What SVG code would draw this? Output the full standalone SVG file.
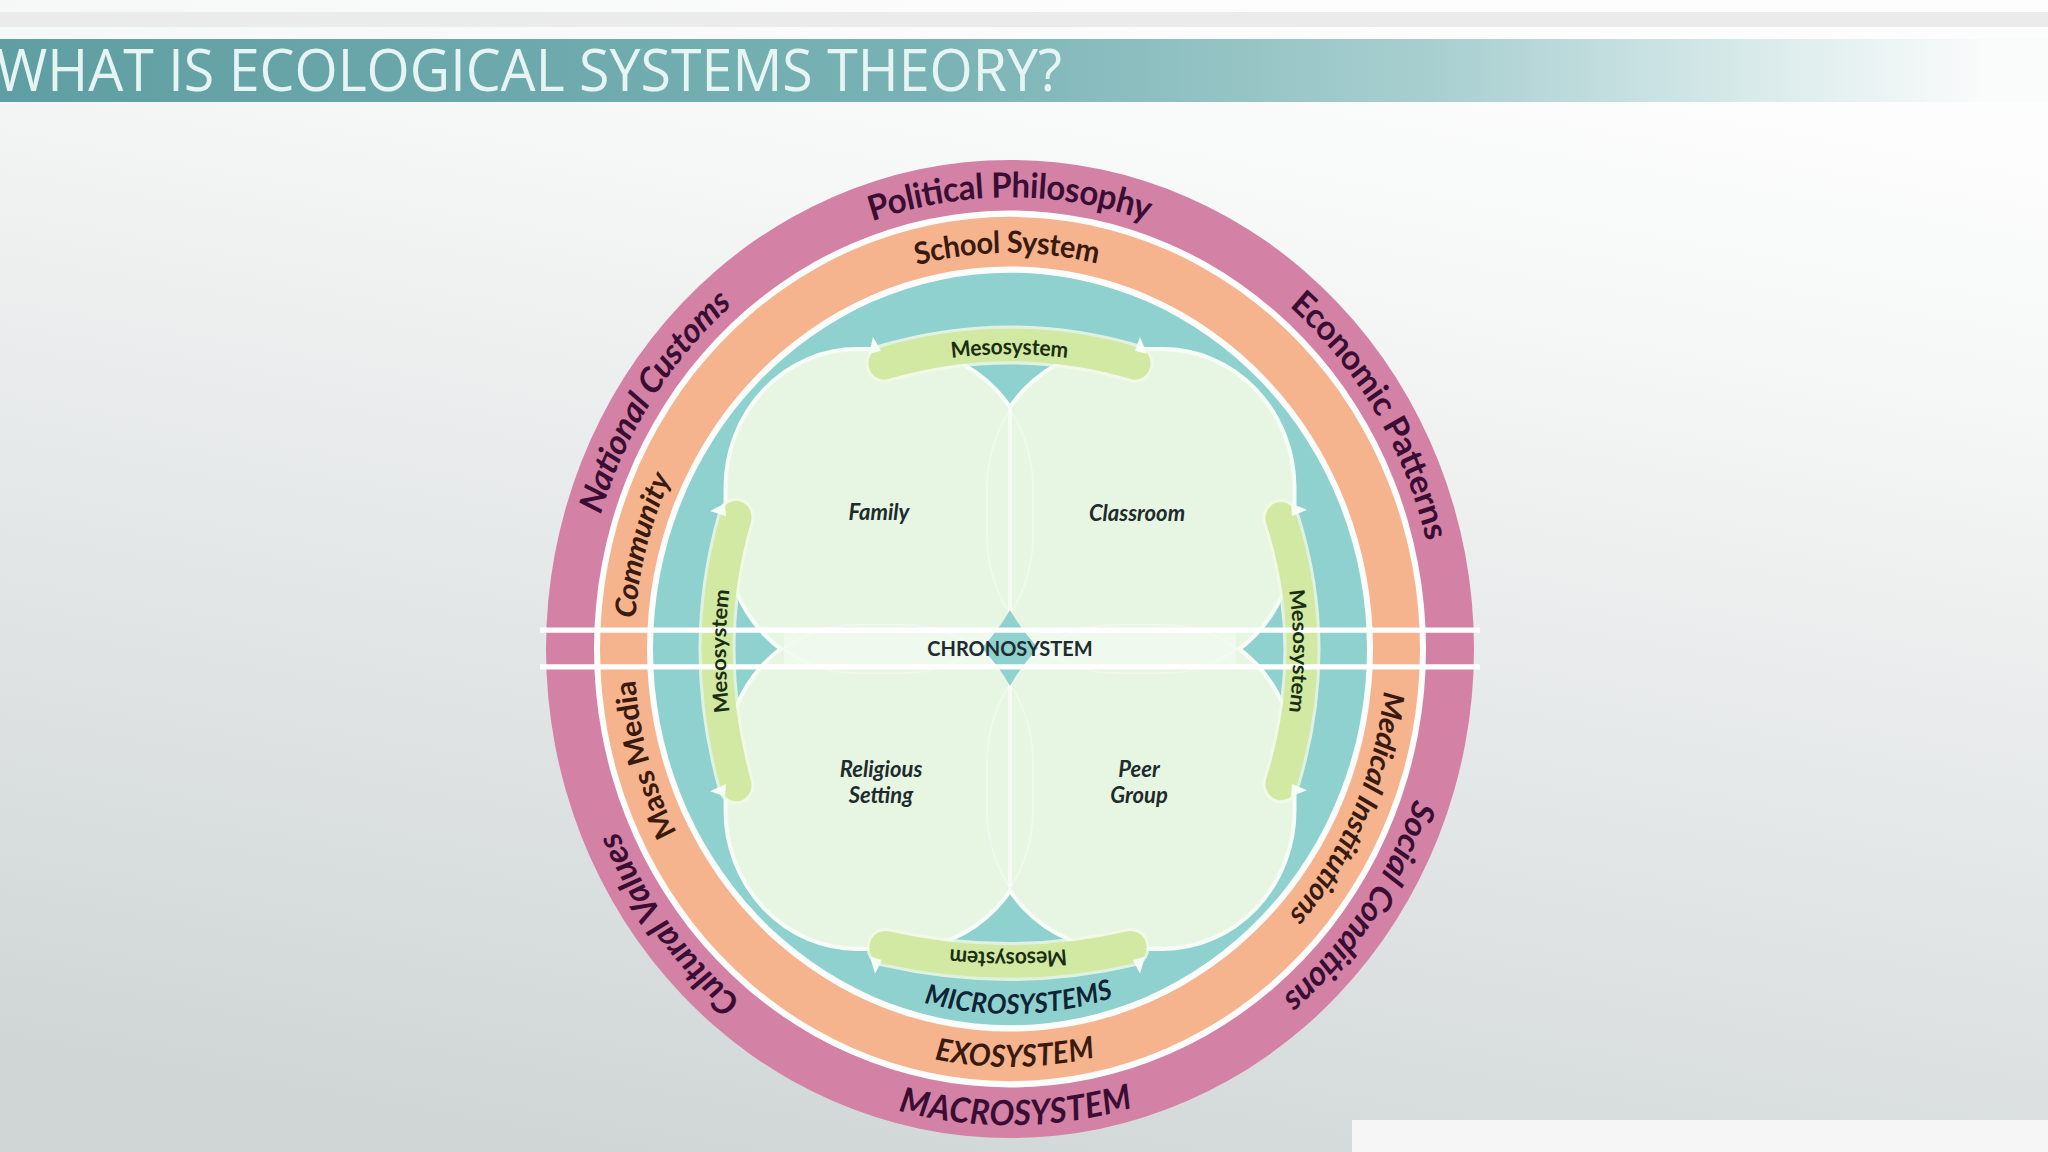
<svg xmlns="http://www.w3.org/2000/svg" width="2048" height="1152" viewBox="0 0 2048 1152">
  <defs>
    <linearGradient id="bg" x1="0.62" y1="0" x2="0.3" y2="1">
      <stop offset="0" stop-color="#fdfdfd"/>
      <stop offset="0.2" stop-color="#f6f7f7"/>
      <stop offset="1" stop-color="#d0d6d6"/>
    </linearGradient>
    <linearGradient id="banner" x1="0" y1="0" x2="2048" y2="0" gradientUnits="userSpaceOnUse">
      <stop offset="0" stop-color="#5f9ea2"/>
      <stop offset="0.45" stop-color="#78b2b4"/>
      <stop offset="0.7" stop-color="#a8cfd0"/>
      <stop offset="0.88" stop-color="#e0eeee"/>
      <stop offset="0.97" stop-color="#fafbfb"/>
    </linearGradient>
    <path id="pinkCW" d="M0,440 A440,440 0 1 1 0,-440 A440,440 0 1 1 0,440"/>
    <path id="pinkCCW" d="M0,-440 A440,440 0 1 0 0,440 A440,440 0 1 0 0,-440"/>
    <path id="oraCW" d="M0,386 A386,386 0 1 1 0,-386 A386,386 0 1 1 0,386"/>
    <path id="oraCCW" d="M0,-386 A386,386 0 1 0 0,386 A386,386 0 1 0 0,-386"/>
    <path id="tealCCW" d="M0,-337 A337,337 0 1 0 0,337 A337,337 0 1 0 0,-337"/>
    <path id="mesoTop" d="M-136,-268 Q0,-306 135,-268"/>
    <path id="mesoBottom" d="M-135,280 Q0,310 131,280"/>
    <path id="mesoBottomRev" d="M131,280 Q0,310 -135,280"/>
    <path id="mesoLeft" d="M-271,139 Q-312,0 -271,-135"/>
    <path id="mesoRight" d="M268,-134 Q313,0 268,138"/>
    <path id="bandTop" d="M-126,-271 Q0,-306 125,-271"/>
    <path id="bandBottom" d="M-125,283 Q0,310 121,283"/>
    <path id="bandLeft" d="M-274,129 Q-312,0 -274,-125"/>
    <path id="bandRight" d="M271,-124 Q313,0 271,128"/>
    <rect id="lobeShape" width="306" height="306" rx="130"/>
  </defs>
  <style>
    .ring-pink { fill: #d481a6; }
    .ring-orange { fill: #f5b48e; }
    .ring-teal { fill: #8fd1cf; }
    .sep { fill: #fbfdfd; }
    .lobe { fill: #e7f5e3; }
    .lobe-glow { fill: none; stroke: #f6fcf5; stroke-width: 7; }
    .lobe-line { fill: none; stroke: #ffffff; stroke-width: 2; opacity: 0.3; }
    .band { fill: none; stroke: #d2e9a4; stroke-width: 31; stroke-linecap: round; }
    .band-glow { fill: none; stroke: #f3fae6; stroke-width: 37; stroke-linecap: round; opacity: 0.8; }
    .spike { fill: #f6fcf6; }
    .lbl { font-family: Lato, "Open Sans", "Liberation Sans", sans-serif; font-weight: 700; }
    .pink-t { fill: #3a0e33; font-size: 33px; }
    .ora-t { fill: #3b1a0e; font-size: 29px; }
    .teal-t { fill: #0f2335; font-size: 26px; font-style: italic; }
    .meso-t { fill: #1b2e10; font-size: 21px; }
    .inner-t { fill: #1e2b2b; font-size: 22px; font-style: italic; }
    .chrono-t { fill: #1e2b2f; font-size: 20px; }
    .it { font-style: italic; }
  </style>

  <g id="background">
    <rect x="0" y="0" width="2048" height="1152" fill="url(#bg)"/>
    <rect x="0" y="12" width="2048" height="15" fill="#ebebeb"/>
    <rect x="1352" y="1120" width="696" height="32" fill="#f6f6f6"/>
  </g>

  <g id="title">
    <rect x="0" y="39" width="2048" height="63" fill="url(#banner)"/>
    <text x="-4" y="91" textLength="1066" lengthAdjust="spacingAndGlyphs" font-family="'Open Sans', 'Liberation Sans', sans-serif" font-size="59" fill="#e6f5f3">WHAT IS ECOLOGICAL SYSTEMS THEORY?</text>
  </g>

  <g id="diagram" transform="translate(1010,649) scale(1,1.054)">
    <g id="macrosystem">
      <circle class="ring-pink" r="464"/>
      <circle class="sep" r="416"/>
    </g>
    <g id="exosystem">
      <circle class="ring-orange" r="410"/>
      <circle class="sep" r="363"/>
    </g>
    <g id="microsystems">
      <circle class="ring-teal" r="357"/>
    </g>

    <g id="lobe-glows">
      <use href="#lobeShape" x="-283" y="-283" class="lobe-glow"/>
      <use href="#lobeShape" x="-23" y="-283" class="lobe-glow"/>
      <use href="#lobeShape" x="-283" y="-23" class="lobe-glow"/>
      <use href="#lobeShape" x="-23" y="-23" class="lobe-glow"/>
    </g>
    <g id="family"><use href="#lobeShape" x="-283" y="-283" class="lobe"/></g>
    <g id="classroom"><use href="#lobeShape" x="-23" y="-283" class="lobe"/></g>
    <g id="religious-setting"><use href="#lobeShape" x="-283" y="-23" class="lobe"/></g>
    <g id="peer-group"><use href="#lobeShape" x="-23" y="-23" class="lobe"/></g>
    <g id="lobe-lines">
      <use href="#lobeShape" x="-283" y="-283" class="lobe-line"/>
      <use href="#lobeShape" x="-23" y="-283" class="lobe-line"/>
      <use href="#lobeShape" x="-283" y="-23" class="lobe-line"/>
      <use href="#lobeShape" x="-23" y="-23" class="lobe-line"/>
      <line x1="0" y1="-228" x2="0" y2="226" stroke="#ffffff" stroke-width="4" opacity="0.6"/>
      <rect x="-226" y="-18" width="452" height="35" fill="#ffffff" opacity="0.4"/>
    </g>

    <g id="chronosystem">
      <path d="M0,-37 Q10,-20 28,-1 Q10,18 0,35 Q-10,18 -28,-1 Q-10,-20 0,-37 Z" fill="#8fd1cf"/>
    </g>

    <g id="connectors">
      <use href="#bandTop" class="band-glow"/>
      <use href="#bandBottom" class="band-glow"/>
      <use href="#bandLeft" class="band-glow"/>
      <use href="#bandRight" class="band-glow"/>
      <use href="#bandTop" class="band"/>
      <use href="#bandBottom" class="band"/>
      <use href="#bandLeft" class="band"/>
      <use href="#bandRight" class="band"/>
      <polygon class="spike" points="-141,-280 -129,-283 -137,-296"/>
      <polygon class="spike" points="125,-283 137,-280 130,-296"/>
      <polygon class="spike" points="-140,292 -128,295 -135,308"/>
      <polygon class="spike" points="123,295 135,292 130,308"/>
      <polygon class="spike" points="-285,-138 -284,-126 -300,-131"/>
      <polygon class="spike" points="-284,128 -285,140 -300,135"/>
      <polygon class="spike" points="281,-138 282,-126 297,-132"/>
      <polygon class="spike" points="282,128 281,140 297,134"/>
    </g>

    <g id="stripes" stroke="#ffffff" stroke-width="5">
      <line x1="-470" y1="-18" x2="470" y2="-18"/>
      <line x1="-470" y1="17" x2="470" y2="17"/>
    </g>

    <g id="ring-labels" class="lbl">
      <text class="pink-t" dy="0.35em" text-anchor="middle"><textPath href="#pinkCW" startOffset="1382">Political Philosophy</textPath></text>
      <text class="pink-t it" dy="0.35em" text-anchor="middle"><textPath href="#pinkCW" startOffset="948">National Customs</textPath></text>
      <text class="pink-t" dy="0.35em" text-anchor="middle"><textPath href="#pinkCW" startOffset="1831">Economic Patterns</textPath></text>
      <text class="pink-t it" dy="0.35em" text-anchor="middle"><textPath href="#pinkCW" startOffset="2342">Social Conditions</textPath></text>
      <text class="pink-t it" dy="0.35em" text-anchor="middle"><textPath href="#pinkCW" startOffset="404">Cultural Values</textPath></text>
      <text class="pink-t it" dy="0.36em" text-anchor="middle"><textPath href="#pinkCCW" startOffset="1388">MACROSYSTEM</textPath></text>

      <text class="ora-t" dy="0.35em" text-anchor="middle"><textPath href="#oraCW" startOffset="1209">School System</textPath></text>
      <text class="ora-t it" dy="0.35em" text-anchor="middle"><textPath href="#oraCW" startOffset="707">Community</textPath></text>
      <text class="ora-t" dy="0.35em" text-anchor="middle"><textPath href="#oraCW" startOffset="498">Mass Media</textPath></text>
      <text class="ora-t it" dy="0.35em" text-anchor="middle"><textPath href="#oraCW" startOffset="1981">Medical Institutions</textPath></text>
      <text class="ora-t it" dy="0.36em" text-anchor="middle"><textPath href="#oraCCW" startOffset="1217">EXOSYSTEM</textPath></text>

      <text class="teal-t" dy="0.36em" text-anchor="middle"><textPath href="#tealCCW" startOffset="1067">MICROSYSTEMS</textPath></text>
    </g>

    <g id="meso-labels" class="lbl meso-t">
      <text dy="0.35em" text-anchor="middle"><textPath href="#mesoTop" startOffset="50%">Mesosystem</textPath></text>
      <text dy="0.35em" text-anchor="middle"><textPath href="#mesoBottomRev" startOffset="50%">Mesosystem</textPath></text>
      <text dy="0.35em" text-anchor="middle"><textPath href="#mesoLeft" startOffset="50%">Mesosystem</textPath></text>
      <text dy="0.35em" text-anchor="middle"><textPath href="#mesoRight" startOffset="50%">Mesosystem</textPath></text>
    </g>

    <g id="inner-labels" class="lbl inner-t" text-anchor="middle">
      <text x="-131" y="-122">Family</text>
      <text x="127" y="-121">Classroom</text>
      <text x="-129" y="121">Religious</text>
      <text x="-129" y="146">Setting</text>
      <text x="129" y="121">Peer</text>
      <text x="129" y="146">Group</text>
    </g>
    <text class="lbl chrono-t" x="0" y="7" text-anchor="middle">CHRONOSYSTEM</text>
  </g>
</svg>
